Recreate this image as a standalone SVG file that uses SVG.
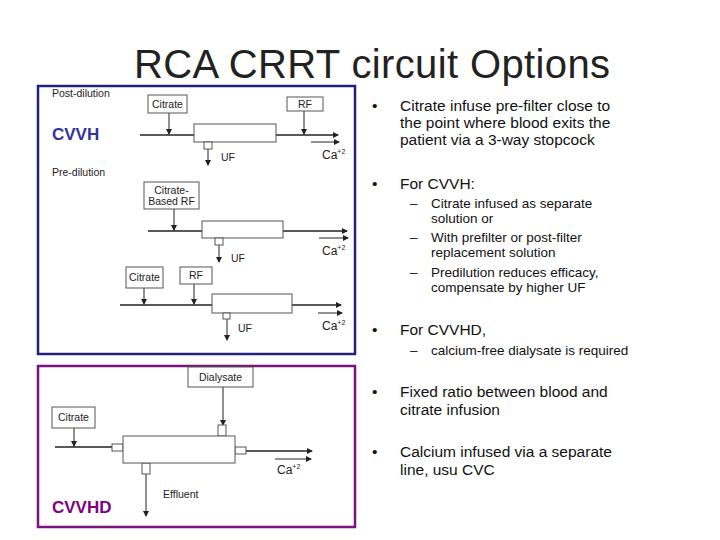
<svg xmlns="http://www.w3.org/2000/svg" width="720" height="540" viewBox="0 0 720 540">
<defs>
<marker id="ar" markerWidth="6" markerHeight="6" refX="5" refY="3" orient="auto" markerUnits="userSpaceOnUse"><path d="M0,0 L6,3 L0,6 z" fill="#222"/></marker>
</defs>
<style>
.b{fill:#fff;stroke:#555;stroke-width:1}
.l{stroke:#222;stroke-width:1.6;fill:none}
.t{stroke:#222;stroke-width:1;fill:none}
.s{font-family:"Liberation Sans",Arial,sans-serif;font-size:10.5px;fill:#222}
.c{font-family:"Liberation Sans",Arial,sans-serif;font-size:12px;fill:#222}
.r{font-family:"Liberation Sans",Arial,sans-serif;font-size:15.5px;fill:#111}
.q{font-family:"Liberation Sans",Arial,sans-serif;font-size:13.5px;fill:#111}
</style>
<rect width="720" height="540" fill="#fff"/>
<text x="372" y="78" text-anchor="middle" font-family="Liberation Sans,Arial,sans-serif" font-size="40" fill="#222" textLength="476">RCA CRRT circuit Options</text>
<rect x="38" y="86" width="317" height="268" fill="none" stroke="#22227a" stroke-width="2.5"/>
<rect x="38" y="366" width="317" height="161" fill="none" stroke="#7a137a" stroke-width="2.5"/>
<text x="52" y="140" font-family="Liberation Sans,Arial,sans-serif" font-size="17" font-weight="bold" fill="#333399">CVVH</text>
<text x="52" y="513" font-family="Liberation Sans,Arial,sans-serif" font-size="17" font-weight="bold" fill="#800080">CVVHD</text>
<text class="s" x="52" y="97">Post-dilution</text>
<text class="s" x="52" y="176">Pre-dilution</text>
<g id="connectors">
<line class="l" x1="140" y1="135" x2="338" y2="135" marker-end="url(#ar)"/>
<line class="t" x1="169" y1="113" x2="169" y2="134" marker-end="url(#ar)"/>
<line class="t" x1="304" y1="111" x2="304" y2="134" marker-end="url(#ar)"/>
<line class="t" x1="208" y1="149" x2="208" y2="165" marker-end="url(#ar)"/>
<line class="t" x1="311" y1="142" x2="339" y2="142" marker-end="url(#ar)"/>
<line class="l" x1="148" y1="231" x2="347" y2="231" marker-end="url(#ar)"/>
<line class="t" x1="174" y1="209" x2="174" y2="230" marker-end="url(#ar)"/>
<line class="t" x1="219" y1="245" x2="219" y2="262" marker-end="url(#ar)"/>
<line class="t" x1="319" y1="238" x2="348" y2="238" marker-end="url(#ar)"/>
<line class="l" x1="120" y1="305" x2="341" y2="305" marker-end="url(#ar)"/>
<line class="t" x1="144" y1="288" x2="144" y2="304" marker-end="url(#ar)"/>
<line class="t" x1="194" y1="284" x2="194" y2="304" marker-end="url(#ar)"/>
<line class="t" x1="227" y1="319" x2="227" y2="340" marker-end="url(#ar)"/>
<line class="t" x1="318" y1="313" x2="342" y2="313" marker-end="url(#ar)"/>
<line class="l" x1="55" y1="447" x2="112" y2="447"/>
<line class="t" x1="74" y1="428" x2="74" y2="446" marker-end="url(#ar)"/>
<line class="t" x1="223" y1="387" x2="223" y2="425" marker-end="url(#ar)"/>
<line class="l" x1="246" y1="451" x2="312" y2="451" marker-end="url(#ar)"/>
<line class="t" x1="275" y1="459" x2="311" y2="459" marker-end="url(#ar)"/>
<line class="t" x1="146" y1="474" x2="146" y2="516" marker-end="url(#ar)"/>
</g>
<g id="post-citrate"><rect class="b" x="148" y="95" width="39" height="18"/><text class="s" x="167.5" y="108" text-anchor="middle">Citrate</text></g>
<g id="post-rf"><rect class="b" x="287" y="97" width="36" height="14"/><text class="s" x="305" y="108" text-anchor="middle">RF</text></g>
<g id="post-filter"><rect class="b" x="194" y="124" width="82" height="18"/><rect class="b" x="204" y="142" width="8" height="7"/></g>
<text class="s" x="221" y="161">UF</text><text class="c" x="322" y="159">Ca<tspan font-size="7" dy="-5">+2</tspan></text>
<g id="pre-crf"><rect class="b" x="144" y="182" width="55" height="27"/><text class="s" x="171.5" y="194" text-anchor="middle">Citrate-</text><text class="s" x="171.5" y="205" text-anchor="middle">Based RF</text></g>
<g id="pre-filter1"><rect class="b" x="202" y="221" width="81" height="17"/><rect class="b" x="215" y="238" width="8" height="7"/></g>
<text class="s" x="231" y="262">UF</text><text class="c" x="322" y="255">Ca<tspan font-size="7" dy="-5">+2</tspan></text>
<g id="pre-citrate"><rect class="b" x="126" y="267" width="37" height="21"/><text class="s" x="144.5" y="281" text-anchor="middle">Citrate</text></g>
<g id="pre-rf"><rect class="b" x="180" y="267" width="32" height="17"/><text class="s" x="196" y="279" text-anchor="middle">RF</text></g>
<g id="pre-filter2"><rect class="b" x="212" y="294" width="80" height="19"/><rect class="b" x="223" y="313" width="7" height="6"/></g>
<text class="s" x="238" y="332">UF</text><text class="c" x="322" y="330">Ca<tspan font-size="7" dy="-5">+2</tspan></text>
<g id="hd-dialysate"><rect class="b" x="188" y="367" width="65" height="20"/><text class="s" x="220.5" y="381" text-anchor="middle">Dialysate</text></g>
<g id="hd-citrate"><rect class="b" x="52" y="407" width="43" height="21"/><text class="s" x="73.5" y="421" text-anchor="middle">Citrate</text></g>
<g id="hd-filter"><rect class="b" x="218" y="425" width="8" height="11"/><rect class="b" x="112" y="444" width="11" height="7"/><rect class="b" x="235" y="447" width="11" height="7"/><rect class="b" x="142" y="463" width="8" height="11"/><rect class="b" x="123" y="436" width="112" height="27"/></g>
<text class="s" x="163" y="498">Effluent</text><text class="c" x="277" y="474">Ca<tspan font-size="7" dy="-5">+2</tspan></text>
<g id="bullets">
<text class="r" x="372" y="111">•</text>
<text class="r" x="400" y="111">Citrate infuse pre-filter  close to</text>
<text class="r" x="400" y="128">the point where blood exits the</text>
<text class="r" x="400" y="145">patient via a 3-way stopcock</text>
<text class="r" x="372" y="189">•</text><text class="r" x="400" y="189">For CVVH:</text>
<text class="q" x="410" y="208">–</text><text class="q" x="431" y="208">Citrate infused as separate</text>
<text class="q" x="431" y="223">solution or</text>
<text class="q" x="410" y="242">–</text><text class="q" x="431" y="242">With prefilter or post-filter</text>
<text class="q" x="431" y="257">replacement solution</text>
<text class="q" x="410" y="277">–</text><text class="q" x="431" y="277">Predilution reduces efficacy,</text>
<text class="q" x="431" y="292">compensate by higher UF</text>
<text class="r" x="372" y="335">•</text><text class="r" x="400" y="335">For CVVHD,</text>
<text class="q" x="410" y="355">–</text><text class="q" x="431" y="355">calcium-free dialysate is required</text>
<text class="r" x="372" y="397">•</text><text class="r" x="400" y="397">Fixed ratio between blood and</text>
<text class="r" x="400" y="415">citrate infusion</text>
<text class="r" x="372" y="457">•</text><text class="r" x="400" y="457">Calcium infused via a separate</text>
<text class="r" x="400" y="475">line, usu CVC</text>
</g>
</svg>
